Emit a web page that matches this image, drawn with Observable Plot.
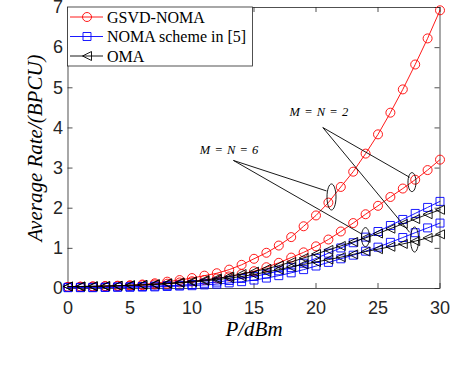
<!DOCTYPE html>
<html><head><meta charset="utf-8">
<script src="https://cdn.jsdelivr.net/npm/d3@7"></script>
<script src="https://cdn.jsdelivr.net/npm/@observablehq/plot@0.6"></script>
<style>
body{margin:0;background:#fff;}
#wrap{position:relative;width:474px;height:366px;}
#wrap > svg{position:absolute;left:0;top:0;}
g[aria-label="xlabel"] text{letter-spacing:1.5px;}
g[aria-label="ylabel"] text{letter-spacing:1px;}
</style></head><body><div id="wrap"></div>
<script>
// ---------- data ----------
const power = [0,1,2,3,4,5,6,7,8,9,10,11,12,13,14,15,16,17,18,19,20,21,22,23,24,25,26,27,28,29,30];
const gsvdN6 = [0.04,0.045,0.05,0.06,0.07,0.08,0.1,0.13,0.17,0.21,0.26,0.32,0.38,0.47,0.59,0.74,0.89,1.07,1.28,1.55,1.82,2.14,2.53,2.91,3.36,3.84,4.38,4.96,5.58,6.23,6.93];
const gsvdN2 = [0.04,0.045,0.05,0.055,0.06,0.07,0.08,0.1,0.12,0.15,0.18,0.21,0.25,0.3,0.36,0.43,0.53,0.64,0.77,0.9,1.05,1.22,1.42,1.63,1.85,2.06,2.28,2.49,2.71,2.95,3.21];
const nomaN6 = [0.03,0.03,0.03,0.035,0.04,0.045,0.05,0.06,0.07,0.08,0.1,0.13,0.16,0.2,0.25,0.3,0.36,0.44,0.52,0.63,0.75,0.88,1.01,1.14,1.28,1.42,1.57,1.72,1.87,2.02,2.17];
const nomaN2 = [0.02,0.02,0.02,0.025,0.03,0.03,0.035,0.04,0.05,0.06,0.07,0.09,0.11,0.14,0.17,0.21,0.26,0.32,0.39,0.47,0.56,0.65,0.74,0.83,0.93,1.03,1.15,1.27,1.39,1.51,1.63];
const omaN6 = [0.05,0.05,0.055,0.06,0.07,0.08,0.09,0.11,0.13,0.15,0.18,0.21,0.25,0.3,0.36,0.42,0.49,0.57,0.66,0.76,0.86,0.96,1.06,1.16,1.26,1.37,1.49,1.61,1.73,1.85,1.96];
const omaN2 = [0.05,0.05,0.055,0.06,0.07,0.08,0.09,0.1,0.12,0.14,0.16,0.19,0.22,0.26,0.3,0.35,0.41,0.47,0.54,0.6,0.66,0.72,0.78,0.85,0.92,0.98,1.04,1.11,1.18,1.26,1.35];
const xTicks = [0,5,10,15,20,25,30];
const yTicks = [0,1,2,3,4,5,6,7];
const legendLabels = ["GSVD-NOMA", "NOMA scheme in [5]", "OMA"];
const xLabel = "P/dBm";
const yLabel = "Average Rate/(BPCU)";
const annoLabels = [
  {text: "M\u2004=\u2004N\u2004=\u20042", x: 20.23, y: 4.40},
  {text: "M\u2004=\u2004N\u2004=\u20046", x: 12.99, y: 3.44}
];
const annoArrows = [
  {x1: 27.55, y1: 2.77, x2: 20.55, y2: 4.01},
  {x1: 27.55, y1: 1.40, x2: 20.55, y2: 4.01},
  {x1: 20.85, y1: 2.43, x2: 13.34, y2: 3.19},
  {x1: 23.67, y1: 1.36, x2: 13.34, y2: 3.19}
];
const annoEllipses = [
  {x: 27.74, y: 2.65, rx: 4, ry: 9.5},
  {x: 27.95, y: 1.22, rx: 4, ry: 12.5},
  {x: 21.25, y: 2.28, rx: 4.5, ry: 13},
  {x: 23.99, y: 1.28, rx: 4, ry: 9.5}
];

// ---------- symbols ----------
const leftTriangle = {draw(ctx, size){ const r = Math.sqrt(size/Math.PI); ctx.moveTo(-r,0); ctx.lineTo(r,-r); ctx.lineTo(r,r); ctx.closePath(); }};
const ellipseSym = (rx) => ({draw(ctx, size){
  const ry = Math.sqrt(size/Math.PI), k = 0.5523;
  ctx.moveTo(rx,0);
  ctx.bezierCurveTo(rx,k*ry,k*rx,ry,0,ry);
  ctx.bezierCurveTo(-k*rx,ry,-rx,k*ry,-rx,0);
  ctx.bezierCurveTo(-rx,-k*ry,-k*rx,-ry,0,-ry);
  ctx.bezierCurveTo(k*rx,-ry,rx,-k*ry,rx,0);
  ctx.closePath();
}});

const series = [
  {vals: gsvdN6, color: "#ff0000", symbol: d3.symbolCircle},
  {vals: gsvdN2, color: "#ff0000", symbol: d3.symbolCircle},
  {vals: nomaN6, color: "#0000ff", symbol: d3.symbolSquare},
  {vals: nomaN2, color: "#0000ff", symbol: d3.symbolSquare},
  {vals: omaN6, color: "#000000", symbol: leftTriangle},
  {vals: omaN2, color: "#000000", symbol: leftTriangle}
];

const W = 474, H = 366, ML = 67.5, MR = 34.5, MT = 7, MB = 78;
const PW = W - ML - MR, PH = H - MT - MB;
const axisColor = "#262626";
const serif = "Liberation Serif, Times New Roman, serif";

const marks = [];
marks.push(Plot.frame({stroke: axisColor, strokeWidth: 0.8}));
marks.push(Plot.tickX(xTicks, {x: d => d, insetTop: PH - 5, stroke: axisColor, strokeWidth: 0.8}));
marks.push(Plot.tickX(xTicks, {x: d => d, insetBottom: PH - 5, stroke: axisColor, strokeWidth: 0.8}));
marks.push(Plot.tickY(yTicks, {y: d => d, insetRight: PW - 5, stroke: axisColor, strokeWidth: 0.8}));
marks.push(Plot.tickY(yTicks, {y: d => d, insetLeft: PW - 5, stroke: axisColor, strokeWidth: 0.8}));
marks.push(Plot.axisX({ticks: xTicks, tickFormat: d => String(d), tickSize: 0, tickPadding: 13, label: null, fill: axisColor, fontSize: 18}));
marks.push(Plot.axisY({ticks: yTicks, tickFormat: d => String(d), tickSize: 0, tickPadding: 5, label: null, fill: axisColor, fontSize: 18}));

for (const s of series) {
  const rows = power.map((p, i) => ({p, v: s.vals[i]}));
  marks.push(Plot.line(rows, {x: "p", y: "v", stroke: s.color, strokeWidth: 0.9}));
  marks.push(Plot.dot(rows, {x: "p", y: "v", r: 4.5, symbol: s.symbol, stroke: s.color, fill: "none", strokeWidth: 0.9}));
}

marks.push(Plot.link(annoArrows, {x1: "x1", y1: "y1", x2: "x2", y2: "y2", stroke: "#000", strokeWidth: 0.9, ariaLabel: "anno-arrow"}));
for (const e of annoEllipses) {
  marks.push(Plot.dot([e], {x: "x", y: "y", r: e.ry, symbol: ellipseSym(e.rx), stroke: "#000", fill: "none", strokeWidth: 0.9}));
}
marks.push(Plot.text(annoLabels, {x: "x", y: "y", text: "text", fontFamily: serif, fontStyle: "italic", fontSize: 12.5, fill: "#000"}));

marks.push(Plot.text([xLabel], {frameAnchor: "bottom", dy: 41, lineAnchor: "middle", textAnchor: "middle", text: d => d, fontFamily: serif, fontStyle: "italic", fontSize: 21, fill: "#000", ariaLabel: "xlabel"}));
marks.push(Plot.text([yLabel], {frameAnchor: "left", dx: -32.5, rotate: -90, lineAnchor: "middle", textAnchor: "middle", text: d => d, fontFamily: serif, fontStyle: "italic", fontSize: 21, fill: "#000", ariaLabel: "ylabel"}));

const svg = Plot.plot({
  width: W, height: H,
  marginLeft: ML, marginRight: MR, marginTop: MT, marginBottom: MB,
  x: {domain: [0, 30]},
  y: {domain: [0, 7]},
  style: {fontFamily: "Liberation Sans, Arial, Helvetica, sans-serif", fontSize: "18px", background: "#fff", overflow: "visible"},
  marks
});

// filled arrowheads
const ns = "http://www.w3.org/2000/svg";
const defs = document.createElementNS(ns, "defs");
const marker = document.createElementNS(ns, "marker");
marker.setAttribute("id", "ahead");
marker.setAttribute("viewBox", "-12 -5 13 10");
marker.setAttribute("refX", "0"); marker.setAttribute("refY", "0");
marker.setAttribute("markerWidth", "13"); marker.setAttribute("markerHeight", "10");
marker.setAttribute("markerUnits", "userSpaceOnUse");
marker.setAttribute("orient", "auto");
const mp = document.createElementNS(ns, "path");
mp.setAttribute("d", "M0,0L-12,-4.5L-9,0L-12,4.5Z");
mp.setAttribute("fill", "#000");
marker.appendChild(mp); defs.appendChild(marker);
svg.insertBefore(defs, svg.firstChild);
svg.querySelectorAll('g[aria-label="anno-arrow"] path').forEach(p => p.setAttribute("marker-end", "url(#ahead)"));

document.getElementById("wrap").appendChild(svg);

// legend (inside axes, top-left)
const lg = d3.select("#wrap").append("svg")
  .attr("width", W).attr("height", H)
  .style("position", "absolute").style("left", 0).style("top", 0).style("pointer-events", "none");
lg.append("rect").attr("x", ML).attr("y", MT).attr("width", 185).attr("height", 59)
  .attr("fill", "#fff").attr("stroke", axisColor).attr("stroke-width", 0.8);
const legendSeries = [series[0], series[2], series[4]];
legendLabels.forEach((lab, i) => {
  const cy = 17 + i * 19.5;
  const s = legendSeries[i];
  lg.append("line").attr("x1", 70).attr("x2", 103).attr("y1", cy).attr("y2", cy)
    .attr("stroke", s.color).attr("stroke-width", 0.9);
  lg.append("path").attr("transform", `translate(87,${cy})`)
    .attr("d", d3.symbol(s.symbol, 4.5 * 4.5 * Math.PI)())
    .attr("fill", "none").attr("stroke", s.color).attr("stroke-width", 0.9);
  lg.append("text").attr("x", 107).attr("y", cy).attr("dy", "0.35em")
    .attr("font-family", serif).attr("font-size", 16)
    .attr("fill", "#000").text(lab);
});
</script></body></html>
